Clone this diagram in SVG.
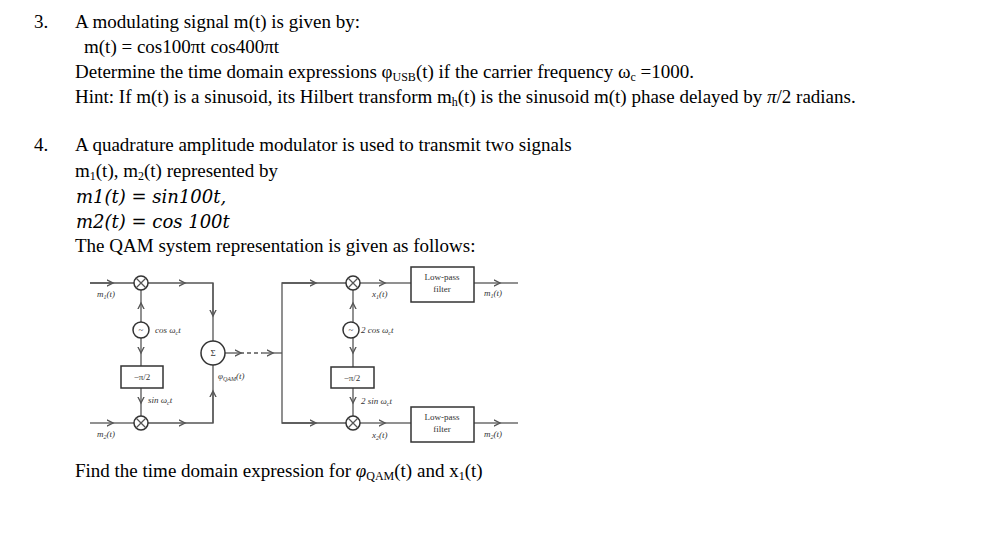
<svg xmlns="http://www.w3.org/2000/svg" width="983" height="533" viewBox="0 0 983 533">
<style>
.t{font-family:"Liberation Serif",serif;font-size:19px;fill:#000}
.m{font-family:"DejaVu Serif","Liberation Serif",serif;font-style:italic;font-size:18px;fill:#000}
.s{font-family:"Liberation Serif",serif;font-size:9px;fill:#333}
.i{font-style:italic}
line,path,polyline{stroke:#555;stroke-width:1.3;fill:none}
.n circle,.n rect{stroke:#333;stroke-width:1.5;fill:#fff}
</style>
<defs><marker id="a" viewBox="0 0 10 10" refX="5" refY="5" markerWidth="8" markerHeight="8" orient="auto"><path d="M0,2 L6,5 L0,8" stroke="#555" stroke-width="1.2"/></marker></defs>
<rect width="983" height="533" fill="#fff"/>
<text class="t" x="34" y="28">3.</text>
<text class="t" x="75" y="28">A modulating signal m(t) is given by:</text>
<text class="t" x="84" y="53">m(t) = cos100πt cos400πt</text>
<text class="t" x="75" y="78">Determine the time domain expressions φ<tspan font-size="12" dy="3">USB</tspan><tspan dy="-3">(t) if the carrier frequency ω</tspan><tspan font-size="12" dy="3">c</tspan><tspan dy="-3"> =1000.</tspan></text>
<text class="t" x="75" y="103">Hint: If m(t) is a sinusoid, its Hilbert transform m<tspan font-size="12" dy="3">h</tspan><tspan dy="-3">(t) is the sinusoid m(t) phase delayed by </tspan><tspan class="i">π</tspan>/2 radians.</text>
<text class="t" x="34" y="151">4.</text>
<text class="t" x="75" y="151">A quadrature amplitude modulator is used to transmit two signals</text>
<text class="t" x="75" y="177">m<tspan font-size="12" dy="3">1</tspan><tspan dy="-3">(t), m</tspan><tspan font-size="12" dy="3">2</tspan><tspan dy="-3">(t) represented by</tspan></text>
<text class="m" x="76" y="203">m1(t) = sin100t,</text>
<text class="m" x="76" y="228">m2(t) = cos 100t</text>
<text class="t" x="75" y="252">The QAM system representation is given as follows:</text>
<text class="t" x="75" y="477">Find the time domain expression for <tspan class="i">φ</tspan><tspan font-size="12" dy="3">QAM</tspan><tspan dy="-3">(t) and x</tspan><tspan font-size="12" dy="3">1</tspan><tspan dy="-3">(t)</tspan></text>
<g id="connectors">
<path d="M90,283 H134" marker-mid="url(#a)"/><line x1="90" y1="283" x2="112" y2="283" marker-end="url(#a)"/>
<line x1="90" y1="423" x2="112" y2="423" marker-end="url(#a)"/><line x1="112" y1="423" x2="134" y2="423"/>
<line x1="148" y1="283" x2="184" y2="283" marker-end="url(#a)"/><polyline points="184,283 213,283 213,341"/><line x1="213" y1="283" x2="213" y2="315" marker-end="url(#a)"/>
<line x1="148" y1="423" x2="184" y2="423" marker-end="url(#a)"/><polyline points="184,423 213,423 213,365"/><line x1="213" y1="423" x2="213" y2="392" marker-end="url(#a)"/>
<line x1="141" y1="322" x2="141" y2="304" marker-end="url(#a)"/><line x1="141" y1="304" x2="141" y2="290"/>
<line x1="141" y1="338" x2="141" y2="352" marker-end="url(#a)"/><line x1="141" y1="352" x2="141" y2="366"/>
<line x1="141" y1="388" x2="141" y2="402" marker-end="url(#a)"/><line x1="141" y1="402" x2="141" y2="416"/>
<line x1="225" y1="353" x2="240" y2="353" marker-end="url(#a)"/><line x1="240" y1="353" x2="262" y2="353" stroke-dasharray="4,3"/><line x1="262" y1="353" x2="272" y2="353" marker-end="url(#a)"/><line x1="272" y1="353" x2="282" y2="353"/>
<polyline points="346,283 282,283 282,423 346,423"/>
<line x1="282" y1="283" x2="315" y2="283" marker-end="url(#a)"/><line x1="282" y1="423" x2="315" y2="423" marker-end="url(#a)"/>
<line x1="360" y1="283" x2="384" y2="283" marker-end="url(#a)"/><line x1="384" y1="283" x2="411" y2="283"/>
<line x1="360" y1="423" x2="384" y2="423" marker-end="url(#a)"/><line x1="384" y1="423" x2="411" y2="423"/>
<line x1="474" y1="283" x2="499" y2="283" marker-end="url(#a)"/><line x1="499" y1="283" x2="518" y2="283"/>
<line x1="474" y1="423" x2="499" y2="423" marker-end="url(#a)"/><line x1="499" y1="423" x2="518" y2="423"/>
<line x1="353" y1="322" x2="353" y2="304" marker-end="url(#a)"/><line x1="353" y1="304" x2="353" y2="290"/>
<line x1="353" y1="338" x2="353" y2="352" marker-end="url(#a)"/><line x1="353" y1="352" x2="353" y2="367"/>
<line x1="353" y1="388" x2="353" y2="402" marker-end="url(#a)"/><line x1="353" y1="402" x2="353" y2="416"/>
</g>
<g id="mul1" class="n"><circle cx="141" cy="283" r="7"/><path d="M136,278 L146,288 M146,278 L136,288" stroke="#333"/></g>
<g id="mul2" class="n"><circle cx="141" cy="423" r="7"/><path d="M136,418 L146,428 M146,418 L136,428" stroke="#333"/></g>
<g id="osc1" class="n"><circle cx="141" cy="330" r="8"/><text class="s" x="141" y="333" text-anchor="middle">~</text></g>
<g id="ph1" class="n"><rect x="121" y="366" width="42" height="22"/><text class="s" x="142" y="380" text-anchor="middle">−π/2</text></g>
<g id="sum" class="n"><circle cx="213" cy="353" r="12"/><text class="s" x="213" y="356" text-anchor="middle">Σ</text></g>
<g id="mul3" class="n"><circle cx="353" cy="283" r="7"/><path d="M348,278 L358,288 M358,278 L348,288" stroke="#333"/></g>
<g id="mul4" class="n"><circle cx="353" cy="423" r="7"/><path d="M348,418 L358,428 M358,418 L348,428" stroke="#333"/></g>
<g id="osc2" class="n"><circle cx="351" cy="330" r="8"/><text class="s" x="351" y="333" text-anchor="middle">~</text></g>
<g id="ph2" class="n"><rect x="331" y="367" width="43" height="21"/><text class="s" x="352" y="381" text-anchor="middle">−π/2</text></g>
<g id="lpf1" class="n"><rect x="411" y="267" width="63" height="35"/><text class="s" x="442" y="280" text-anchor="middle">Low-pass</text><text class="s" x="442" y="292" text-anchor="middle">filter</text></g>
<g id="lpf2" class="n"><rect x="411" y="407" width="63" height="35"/><text class="s" x="442" y="420" text-anchor="middle">Low-pass</text><text class="s" x="442" y="432" text-anchor="middle">filter</text></g>
<g id="labels" class="s" font-style="italic">
<text x="97" y="297">m<tspan font-size="6" dy="2">1</tspan><tspan dy="-2">(t)</tspan></text>
<text x="97" y="437">m<tspan font-size="6" dy="2">2</tspan><tspan dy="-2">(t)</tspan></text>
<text x="155" y="333">cos ω<tspan font-size="6" dy="2">c</tspan><tspan dy="-2">t</tspan></text>
<text x="148" y="403">sin ω<tspan font-size="6" dy="2">c</tspan><tspan dy="-2">t</tspan></text>
<text x="218" y="379">φ<tspan font-size="6" dy="2">QAM</tspan><tspan dy="-2">(t)</tspan></text>
<text x="372" y="297">x<tspan font-size="6" dy="2">1</tspan><tspan dy="-2">(t)</tspan></text>
<text x="372" y="438">x<tspan font-size="6" dy="2">2</tspan><tspan dy="-2">(t)</tspan></text>
<text x="361" y="333">2 cos ω<tspan font-size="6" dy="2">c</tspan><tspan dy="-2">t</tspan></text>
<text x="361" y="404">2 sin ω<tspan font-size="6" dy="2">c</tspan><tspan dy="-2">t</tspan></text>
<text x="484" y="296">m<tspan font-size="6" dy="2">1</tspan><tspan dy="-2">(t)</tspan></text>
<text x="484" y="437">m<tspan font-size="6" dy="2">2</tspan><tspan dy="-2">(t)</tspan></text>
</g>
</svg>
